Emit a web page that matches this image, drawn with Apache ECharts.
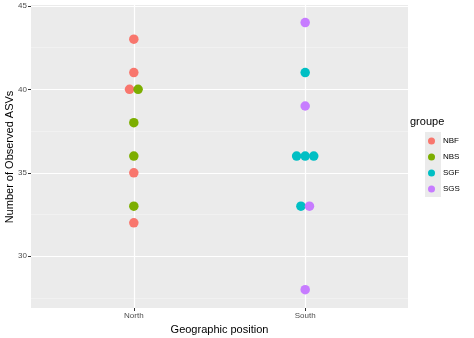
<!DOCTYPE html>
<html>
<head>
<meta charset="utf-8">
<script src="https://cdn.jsdelivr.net/npm/echarts@6/dist/echarts.min.js"></script>
<style>html,body{margin:0;padding:0;background:#fff}#c{width:474px;height:338px}</style>
</head>
<body>
<div id="c"></div>
<script>
// ---- data ----
var categories = ["North", "South"];
var groups = ["NBF", "NBS", "SGF", "SGS"];
var groupCategory = ["North", "North", "South", "South"];
var NBF = [43, 41, 40, 35, 32];
var NBS = [40, 38, 36, 33];
var SGF = [41, 36, 36, 36, 33];
var SGS = [44, 39, 33, 28];
var yTicks = [30, 35, 40, 45];
var yMinor = [27.5, 32.5, 37.5, 42.5];
var colors = ["#F8766D", "#7CAE00", "#00BFC4", "#C77CFF"];

var groupValues = [NBF, NBS, SGF, SGS];

// dodge points sharing same category & value (centered stacking)
var step = 0.05;
var counts = {};
groupValues.forEach(function (vals, gi) {
  var c = groupCategory[gi];
  vals.forEach(function (v) {
    var k = c + "|" + v;
    counts[k] = (counts[k] || 0) + 1;
  });
});
var seen = {};
var seriesData = groupValues.map(function (vals, gi) {
  var c = groupCategory[gi];
  var xi = categories.indexOf(c) + 1;
  return vals.map(function (v) {
    var k = c + "|" + v;
    var i = seen[k] || 0;
    seen[k] = i + 1;
    var off = (i - (counts[k] - 1) / 2) * step;
    return [xi + off, v];
  });
});

var font = "Liberation Sans, Arial, sans-serif";
var chart = echarts.init(document.getElementById('c'), null, {renderer: 'canvas'});

var series = [{
  type: 'scatter',
  data: [],
  silent: true,
  z: 0,
  zlevel: 0,
  markLine: {
    silent: true,
    z: 0,
    symbol: ['none', 'none'],
    label: {show: false},
    animation: false,
    data: yMinor.map(function (v) { return {yAxis: v, lineStyle: {color: '#F5F5F5', width: 0.6, type: 'solid'}}; })
      .concat(yTicks.map(function (v) { return {yAxis: v, lineStyle: {color: '#FFFFFF', width: 1.2, type: 'solid'}}; }))
      .concat([1, 2].map(function (v) { return {xAxis: v, lineStyle: {color: '#FFFFFF', width: 1.2, type: 'solid'}}; }))
  }
}];
groups.forEach(function (g, gi) {
  series.push({
    name: g,
    type: 'scatter',
    data: seriesData[gi],
    symbolSize: 9.5,
    itemStyle: {color: colors[gi], opacity: 1},
    z: 20
  });
});

chart.setOption({
  animation: false,
  textStyle: {fontFamily: font},
  grid: {left: 31, right: 66, top: 5, bottom: 30, show: true, backgroundColor: '#EBEBEB', borderWidth: 0,
    containLabel: false, outerBoundsMode: 'none'},
  xAxis: {
    type: 'value', min: 0.4, max: 2.6,
    name: 'Geographic position', nameLocation: 'middle', nameGap: 13,
    nameTextStyle: {fontSize: 11, color: '#000', fontFamily: font},
    axisLine: {show: false},
    splitLine: {show: false},
    axisTick: {show: true, length: 3, lineStyle: {color: '#333'}, customValues: [1, 2]},
    axisLabel: {show: true, fontSize: 8, color: '#4D4D4D', margin: 4, fontFamily: font, customValues: [1, 2],
      formatter: function (v) { return categories[Math.round(v) - 1] || ''; }}
  },
  yAxis: {
    type: 'value', min: 26.9, max: 45.05,
    axisLine: {show: false},
    splitLine: {show: false},
    axisTick: {show: true, length: 3, lineStyle: {color: '#333'}, customValues: yTicks},
    axisLabel: {show: true, fontSize: 8, color: '#4D4D4D', margin: 4, fontFamily: font, customValues: yTicks}
  },
  legend: {
    data: groups,
    orient: 'vertical',
    left: 428, top: 137,
    itemWidth: 7, itemHeight: 7, itemGap: 8,
    icon: 'circle',
    textStyle: {fontSize: 8, color: '#000', padding: [0, 0, 0, 3], fontFamily: font},
    padding: 0,
    selectedMode: false
  },
  graphic: [
    {type: 'rect', left: 425, top: 132, shape: {width: 16, height: 65}, style: {fill: '#EBEBEB'}, z: -1},
    {type: 'text', left: 410, top: 116, style: {text: 'groupe', fontSize: 11, fill: '#000', fontFamily: font}},
    {type: 'text', x: 10, y: 157, rotation: Math.PI / 2,
      style: {text: 'Number of Observed ASVs', fontSize: 11, fill: '#000', fontFamily: font,
        align: 'center', verticalAlign: 'middle'}}
  ],
  series: series
});
</script>
</body>
</html>
